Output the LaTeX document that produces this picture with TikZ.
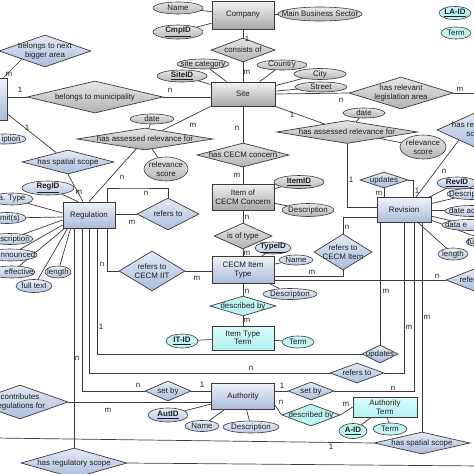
\documentclass[tikz,border=0pt]{standalone}
\usepackage{fontspec}
\setmainfont{Liberation Sans}
\usetikzlibrary{shapes.geometric,calc}
\definecolor{lncol}{HTML}{3A3A3A}
\definecolor{bdcol}{HTML}{3A3A3A}
\definecolor{txtcol}{HTML}{1E1E1E}
\definecolor{gtop}{HTML}{F2F2F2}
\definecolor{gbot}{HTML}{A8A8A8}
\definecolor{btop}{HTML}{EEF2FA}
\definecolor{bbot}{HTML}{A9BBDA}
\definecolor{ctop}{HTML}{DAFCFC}
\definecolor{cbot}{HTML}{B2F0F0}
\definecolor{grtop}{HTML}{E6E6E6}
\definecolor{grbot}{HTML}{B2B2B2}
\definecolor{brtop}{HTML}{E4EAF6}
\definecolor{brbot}{HTML}{AABCDC}
\definecolor{crfill}{HTML}{BFF4F4}
\definecolor{gatop}{HTML}{E8E8E8}
\definecolor{gabot}{HTML}{B6B6B6}
\definecolor{batop}{HTML}{EAF0F9}
\definecolor{babot}{HTML}{B6C6E2}
\definecolor{cafill}{HTML}{C2F4F4}
\newcommand{\myfont}{\fontsize{7.9}{8.6}\selectfont}
\newcommand{\keyt}[1]{\underline{\textbf{#1}}}
\pgfdeclarelayer{bg}
\pgfsetlayers{bg,main}
\tikzset{
  ln/.style={draw=lncol, line width=0.7pt},
  ent/.style={rectangle, draw=bdcol, line width=0.8pt, align=center, inner sep=1pt},
  gent/.style={ent, top color=gtop, bottom color=gbot},
  bent/.style={ent, top color=btop, bottom color=bbot},
  cent/.style={ent, top color=ctop, bottom color=cbot},
  relbase/.style={diamond, draw=bdcol, line width=0.7pt, inner sep=0pt},
  grel/.style={relbase, top color=grtop, bottom color=grbot},
  brel/.style={relbase, top color=brtop, bottom color=brbot},
  crel/.style={relbase, fill=crfill},
  attrbase/.style={ellipse, draw=bdcol, line width=0.6pt, inner sep=0pt},
  gattr/.style={attrbase, top color=gatop, bottom color=gabot},
  battr/.style={attrbase, top color=batop, bottom color=babot},
  cattr/.style={attrbase, fill=cafill},
  tl/.style={align=center, inner sep=0pt},
  card/.style={inner sep=0.5pt}
}
\newcommand{\mkrel}[6]{\node[#1, minimum width=#4, minimum height=#5] (#2) at (#3) {};
  \node[tl] (#2-t) at (#2) {#6};}
\newcommand{\mkattr}[7]{\node[#1, minimum width=#4, minimum height=#5] (#2) at (#3) {};
  \node[tl, xshift=#7] (#2-t) at (#2) {#6};}
\begin{document}
\begin{tikzpicture}[x=1pt,y=-1pt, every node/.style={font=\myfont, text=txtcol}]
\useasboundingbox (0,0) rectangle (474,474);
\begin{pgfonlayer}{bg}
\fill[white] (0,0) rectangle (474,474);
\end{pgfonlayer}

% ---------- entities
\node[gent, minimum width=62, minimum height=28] (company) at (243,15) {Company};
\node[gent, minimum width=64, minimum height=24] (site) at (243,94) {Site};
\node[gent, minimum width=62, minimum height=26] (item) at (243,197) {Item of\\CECM Concern};
\node[bent, minimum width=62, minimum height=27] (itype) at (243,270) {CECM Item\\Type};
\node[cent, minimum width=62, minimum height=24] (itterm) at (243,338) {Item Type\\Term};
\node[bent, minimum width=52, minimum height=26] (reg) at (89,215) {Regulation};
\node[bent, minimum width=54, minimum height=25] (rev) at (404,210) {Revision};
\node[bent, minimum width=63, minimum height=26] (auth) at (243,396) {Authority};
\node[cent, minimum width=64, minimum height=20] (authterm) at (385,407) {Authority\\Term};
\node[bent, minimum width=40, minimum height=42] (leftent) at (-13,99) {};

% ---------- relationships
\mkrel{grel}{consists}{243,50}{64}{24}{consists of}
\mkrel{grel}{belmun}{95,97}{136}{32}{belongs to municipality}
\mkrel{brel}{belnext}{45,51}{92}{32}{belongs to next\\bigger area}
\mkrel{grel}{hasrel}{401,93}{104}{32}{has relevant\\legislation area}
\mkrel{grel}{harL}{145,139}{136}{22}{has assessed relevance for}
\mkrel{grel}{harR}{347,132}{141}{23}{has assessed relevance for}
\mkrel{grel}{cecm}{243,155}{92}{24}{has CECM concern}
\mkrel{grel}{isof}{243,236}{58}{26}{is of type}
\mkrel{crel}{descbyA}{243,306}{66}{20}{described by}
\mkrel{brel}{refersReg}{168,214}{62}{32}{refers to}
\mkrel{brel}{refCIIT}{152,271}{66}{40}{refers to\\CECM IIT}
\mkrel{brel}{refCItem}{343,252}{58}{36}{refers to\\CECM Item}
\mkrel{brel}{updU}{384,180}{48}{16}{updates}
\mkrel{brel}{updL}{380,354}{36}{18}{updates}
\mkrel{brel}{hasspL}{68,162}{92}{24}{has spatial scope}
\mkrel{brel}{setbyL}{168,391}{46}{20}{set by}
\mkrel{brel}{setbyR}{311,391}{46}{18}{set by}
\mkrel{brel}{refersL}{357,373}{54}{20}{refers to}
\mkrel{crel}{descbyB}{311,415}{58}{22}{described by}
\mkrel{brel}{hasspR}{422,443}{96}{22}{has spatial scope}
\mkrel{brel}{contrib}{20,402}{96}{34}{contributes\\regulations for}
\mkrel{brel}{hasreg}{74,463}{106}{30}{has regulatory scope}
\mkrel{brel}{refR}{474,280}{56}{22}{refers to}
\node[brel, minimum width=88, minimum height=40] (hasregR) at (481,130) {};
\node[tl, xshift=-4pt] (hasregR-t) at (hasregR) {has regulatory\\scope};

% ---------- attributes
\mkattr{gattr}{cname}{178,8}{50}{12}{Name}{0}
\mkattr{gattr}{cmpid}{178,32}{50}{14}{\keyt{CmpID}}{0}
\mkattr{gattr}{mbs}{320,14}{84}{14}{Main Business Sector}{0}
\mkattr{gattr}{sitecat}{203,64}{52}{10}{site category}{0}
\mkattr{gattr}{siteid}{182,76}{50}{12}{\keyt{SiteID}}{0}
\mkattr{gattr}{country}{282,65}{50}{10}{Country}{0}
\mkattr{gattr}{city}{320,74}{52}{11}{City}{0}
\mkattr{gattr}{street}{321,87}{52}{10}{Street}{0}
\mkattr{gattr}{dateL}{152,119}{44}{10}{date}{0}
\mkattr{gattr}{rsL}{166,169}{44}{24}{relevance\\score}{0}
\mkattr{gattr}{dateR}{364,113}{42}{10}{date}{0}
\mkattr{gattr}{rsR}{423,147}{46}{24}{relevance\\score}{0}
\mkattr{gattr}{itemid}{299,182}{50}{13}{\keyt{ItemID}}{0}
\mkattr{gattr}{itemdesc}{308,210}{52}{13}{Description}{0}
\mkattr{battr}{typeid}{273,248}{36}{12}{\keyt{TypeID}}{0}
\mkattr{battr}{tname}{296,260}{34}{10}{Name}{0}
\mkattr{battr}{tdesc}{290,294}{54}{11}{Description}{0}
\mkattr{battr}{regid}{48,188}{52}{14}{\keyt{RegID}}{0}
\mkattr{battr}{rtype}{12,199}{42}{12}{a. Type}{0}
\mkattr{battr}{rlimit}{7,218}{38}{11}{mit(s)}{3pt}
\mkattr{battr}{rdesc}{10,239}{46}{11}{scription}{5pt}
\mkattr{battr}{rann}{10,255}{54}{12}{nnounced}{8pt}
\mkattr{battr}{reff}{12,272}{46}{12}{effective}{7pt}
\mkattr{battr}{rfull}{34,286}{36}{13}{full text}{0}
\mkattr{battr}{rlen}{58,272}{26}{12}{length}{0}
\mkattr{battr}{lftdesc}{4,139}{44}{10}{iption}{7pt}
\mkattr{battr}{revid}{457,183}{40}{12}{\keyt{RevID}}{0}
\mkattr{battr}{revdesc}{472,194}{50}{11}{Description}{-3pt}
\mkattr{battr}{revdac}{472,211}{54}{11}{date ac}{-10pt}
\mkattr{battr}{revdae}{470,225}{56}{11}{data e}{-14pt}
\mkattr{battr}{revfu}{490,242}{48}{11}{fu}{-19pt}
\mkattr{battr}{revlen}{453,254}{30}{12}{length}{0}
\mkattr{battr}{autid}{168,415}{40}{14}{\keyt{AutID}}{0}
\mkattr{battr}{autname}{202,426}{34}{11}{Name}{0}
\mkattr{battr}{autdesc}{251,427}{56}{12}{Description}{0}
\mkattr{cattr}{laid}{455,13}{32}{13}{\keyt{LA-ID}}{0}
\mkattr{cattr}{laterm}{456,33}{30}{12}{Term}{0}
\mkattr{cattr}{itid}{182,341}{32}{14}{\keyt{IT-ID}}{0}
\mkattr{cattr}{ittermt}{298,342}{32}{12}{Term}{0}
\mkattr{cattr}{aid}{353,431}{28}{15}{\keyt{A-ID}}{0}
\mkattr{cattr}{aterm}{390,429}{34}{12}{Term}{0}

% ---------- helper coordinates
\coordinate (laR) at (480,93);
\coordinate (regR) at (480,466);
\coordinate (leftB) at (-5,438);
\coordinate (loopc) at (130,188);

% ---------- connectors
\begin{pgfonlayer}{bg}
\draw[ln] (company) -- (consists);
\draw[ln] (consists) -- (site);
\draw[ln] (site) -- (cecm);
\draw[ln] (cecm) -- (item);
\draw[ln] (item) -- (isof);
\draw[ln] (isof) -- (itype);
\draw[ln] (itype) -- (descbyA);
\draw[ln] (descbyA) -- (itterm);
\draw[ln] (cname) -- (company);
\draw[ln] (cmpid) -- (company);
\draw[ln] (mbs) -- (company);
\draw[ln] (sitecat) -- (site);
\draw[ln] (siteid) -- (site);
\draw[ln] (country) -- (site);
\draw[ln] (city) -- (site);
\draw[ln] (street) -- (site);
\draw[ln] (leftent.east |- belmun.west) -- (belmun.west);
\draw[ln] (belmun.east) -- (site.west |- belmun.east);
\draw[ln] (belnext.south west) -- ([xshift=-4pt]leftent.north east);
\draw[ln] (site.east) -- (hasrel.west);
\draw[ln] (hasrel.east) -- (laR);
\draw[ln] (site.south west) -- (harL);
\draw[ln] (harL) -- (reg.north);
\draw[ln] (site.south east) -- (harR);
\draw[ln] (harR.south) |- ([yshift=3pt]rev.west);
\draw[ln] (dateL) -- (harL);
\draw[ln] (rsL) -- (harL);
\draw[ln] (dateR) -- (harR);
\draw[ln] (rsR) -- (harR);
\draw[ln] (itemid) -- (item);
\draw[ln] (itemdesc) -- (item);
\draw[ln] (typeid) -- (itype);
\draw[ln] (tname) -- (itype);
\draw[ln] (tdesc) -- (itype);
\draw[ln] (itid) -- (itterm);
\draw[ln] (ittermt) -- (itterm);
\draw[ln] ([yshift=-15pt]leftent.east) -- ($(hasspL.north)!0.5!(hasspL.north west)$);
\draw[ln] (hasspL.south) -- ([xshift=-6pt]reg.north);
\draw[ln] (regid) -- ([xshift=-11pt]reg.north);
\draw[ln] (rtype) -- ([yshift=2pt]reg.west);
\draw[ln] (rlimit) -- ([yshift=-2pt]reg.west);
\draw[ln] (rdesc) -- ([yshift=-5pt]reg.west);
\draw[ln] (rann) -- ([yshift=-10pt]reg.west);
\draw[ln] (reff) -- ([xshift=2pt]reg.south west);
\draw[ln] (rfull) -- ([xshift=5pt]reg.south west);
\draw[ln] (rlen) -- ([xshift=8pt]reg.south west);
\draw[ln] (reg.east |- refersReg.west) -- (refersReg.west);
\draw[ln] ([xshift=18pt]reg.north) |- (loopc) -| (refersReg.north);
\draw[ln] ([xshift=18pt]reg.south) |- (refCIIT.west);
\draw[ln] (refCIIT.east) -- (itype.west |- refCIIT.east);
\draw[ln] ([xshift=8pt]reg.south) |- (updL.west);
\draw[ln] (updL.north) -- (rev.south -| updL.north);
\draw[ln] (reg.south) |- (refersL.west);
\draw[ln] (refersL.east) -| (rev.south);
\draw[ln] ([xshift=-7pt]reg.south) |- (setbyL.west);
\draw[ln] (setbyL.east) -- (auth.west |- setbyL.east);
\draw[ln] ([xshift=-15pt]reg.south) -- (hasreg.north);
\draw[ln] (hasreg.east) -- (regR);
\draw[ln] (auth.east |- setbyR.west) -- (setbyR.west);
\draw[ln] (setbyR.east) -| ([xshift=10pt]rev.south);
\draw[ln] (hasspR.north) -- ([xshift=18pt]rev.south);
\draw[ln] (leftB) -- (hasspR.west);
\draw[ln] (contrib.east) -- (auth.west |- contrib.east);
\draw[ln] ([yshift=-9pt]auth.east) -- (descbyB.west);
\draw[ln] (descbyB.east) -- (authterm.west);
\draw[ln] (autid) -- (auth);
\draw[ln] (autname) -- (auth);
\draw[ln] (autdesc) -- (auth);
\draw[ln] (aid) -- (authterm);
\draw[ln] (aterm) -- (authterm);
\draw[ln] ([yshift=-10pt]itype.east) -- (refR.west);
\draw[ln] ([yshift=-7pt]rev.west) -| (refCItem.north);
\draw[ln] (refCItem.south) |- ([yshift=-6pt]itype.east);
\draw[ln] (updU.south) -- (rev.north -| updU.south);
\draw[ln] (updU.east) -| ([xshift=9pt]rev.north);
\draw[ln] (hasregR.south west) -- ([xshift=12pt]rev.north);
\draw[ln] (revid) -- (rev);
\draw[ln] (revdesc) -- (rev);
\draw[ln] (revdac) -- (rev);
\draw[ln] (revdae) -- (rev);
\draw[ln] (revfu) -- (rev);
\draw[ln] (revlen) -- (rev);
\end{pgfonlayer}

% ---------- cardinalities
\node[card] (k1) at (247,39) {1};
\node[card] (k2) at (247,72) {m};
\node[card] (k3) at (20,90) {1};
\node[card] (k4) at (170,90) {n};
\node[card] (k5) at (9,74) {m};
\node[card] (k6) at (341,100) {n};
\node[card] (k7) at (460,89) {m};
\node[card] (k8) at (193,125) {m};
\node[card] (k9) at (122,177) {n};
\node[card] (k10) at (292,115) {1};
\node[card] (k11) at (351,180) {1};
\node[card] (k12) at (237,128) {n};
\node[card] (k13) at (237,175) {m};
\node[card] (k14) at (247,217) {n};
\node[card] (k15) at (247,253) {m};
\node[card] (k16) at (247,291) {n};
\node[card] (k17) at (247,320) {m};
\node[card] (k18) at (27,128) {1};
\node[card] (k19) at (79,192) {m};
\node[card] (k20) at (132,222) {m};
\node[card] (k21) at (146,193) {n};
\node[card] (k22) at (102,264) {n};
\node[card] (k23) at (197,278) {m};
\node[card] (k24) at (347,227) {n};
\node[card] (k25) at (312,272) {m};
\node[card] (k26) at (437,276) {n};
\node[card] (k27) at (379,193) {m};
\node[card] (k28) at (417,191) {1};
\node[card] (k29) at (444,171) {n};
\node[card] (k30) at (101,327) {1};
\node[card] (k31) at (386,291) {m};
\node[card] (k32) at (251,368) {n};
\node[card] (k33) at (409,327) {m};
\node[card] (k34) at (138,385) {n};
\node[card] (k35) at (202,385) {1};
\node[card] (k36) at (282,386) {1};
\node[card] (k37) at (393,388) {n};
\node[card] (k38) at (427,317) {m};
\node[card] (k39) at (331,447) {1};
\node[card] (k40) at (77,358) {n};
\node[card] (k41) at (108,410) {m};
\node[card] (k42) at (281,402) {n};
\node[card] (k43) at (346,404) {m};
\end{tikzpicture}
\end{document}
